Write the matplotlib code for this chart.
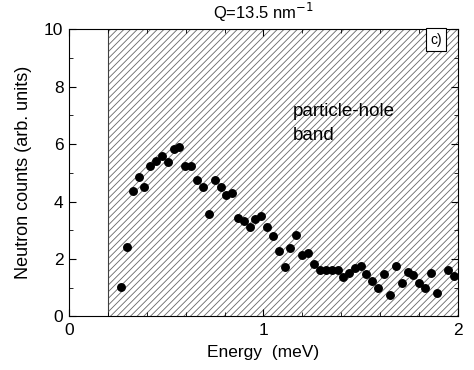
import matplotlib
matplotlib.use('Agg')
import matplotlib.pyplot as plt
from matplotlib.ticker import MultipleLocator

plt.rcParams['font.family'] = ['Liberation Sans', 'DejaVu Sans']
plt.rcParams['hatch.linewidth'] = 0.6

# data
energy = [0.267, 0.298, 0.327, 0.358, 0.387, 0.416, 0.447, 0.478, 0.507, 0.54,
          0.565, 0.598, 0.627, 0.66, 0.69, 0.718, 0.749, 0.78, 0.809, 0.838,
          0.871, 0.90, 0.93, 0.958, 0.988, 1.018, 1.047, 1.078, 1.109, 1.138,
          1.168, 1.198, 1.227, 1.26, 1.29, 1.321, 1.352, 1.383, 1.41, 1.44,
          1.469, 1.50, 1.529, 1.56, 1.589, 1.62, 1.65, 1.68, 1.71, 1.741,
          1.77, 1.80, 1.83, 1.861, 1.89, 1.95, 1.98]
counts = [1.02, 2.41, 4.37, 4.85, 4.51, 5.25, 5.41, 5.57, 5.36, 5.84,
          5.88, 5.24, 5.22, 4.76, 4.50, 3.56, 4.76, 4.50, 4.24, 4.29,
          3.42, 3.33, 3.11, 3.39, 3.48, 3.11, 2.80, 2.29, 1.71, 2.39,
          2.83, 2.13, 2.20, 1.83, 1.60, 1.60, 1.60, 1.60, 1.36, 1.53,
          1.67, 1.77, 1.48, 1.24, 1.00, 1.48, 0.76, 1.74, 1.18, 1.54,
          1.46, 1.16, 0.98, 1.52, 0.83, 1.62, 1.41]
band_start = 0.2

fig = plt.figure(figsize=(4.74, 3.70), dpi=100)
ax = fig.add_axes([0.1456, 0.1446, 0.8205, 0.777])

ax.axvspan(band_start, 2, facecolor='white', edgecolor='0.4', hatch='/////', linewidth=0, zorder=0)
ax.axvline(band_start, color='0.25', lw=0.8, zorder=1)

ax.plot(energy, counts, 'o', color='black', markersize=5.4, zorder=3, clip_on=False)

ax.set_xlim(0, 2)
ax.set_ylim(0, 10)
ax.xaxis.set_major_locator(MultipleLocator(1))
ax.xaxis.set_minor_locator(MultipleLocator(0.2))
ax.yaxis.set_major_locator(MultipleLocator(2))
ax.yaxis.set_minor_locator(MultipleLocator(1))
ax.tick_params(which='both', direction='in', top=True, right=True, labelsize=12.5)
ax.tick_params(which='major', length=5)
ax.tick_params(which='minor', length=3)
ax.tick_params(axis='x', pad=5)
ax.tick_params(axis='y', pad=4)

ax.set_xlabel('Energy  (meV)', fontsize=12.5, labelpad=5)
ax.set_ylabel('Neutron counts (arb. units)', fontsize=13, labelpad=9)
ax.set_title('Q=13.5 nm$^{-1}$', fontsize=12, pad=7)

ax.text(1.15, 6.96, 'particle-hole', fontsize=13.5, ha='left', va='baseline', zorder=4)
ax.text(1.15, 6.13, 'band', fontsize=13.5, ha='left', va='baseline', zorder=4)
ax.text(1.889, 9.63, 'c)', fontsize=10, ha='center', va='center', zorder=4,
        bbox=dict(boxstyle='square,pad=0.3', facecolor='white', edgecolor='black', lw=0.8))

fig.savefig('out.png', dpi=100)
